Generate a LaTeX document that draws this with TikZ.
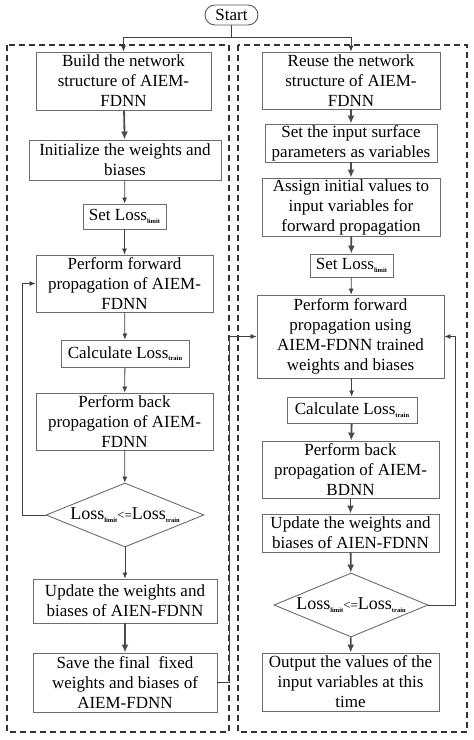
\documentclass[tikz,border=0pt]{standalone}
\usepackage{fontspec}
\setmainfont{Liberation Serif}
\usetikzlibrary{shapes.geometric,arrows.meta}
\newcommand{\lsub}[1]{\raisebox{-2.5pt}{\fontsize{6.5}{7}\selectfont\bfseries #1}}
\newcommand{\lle}{{\fontsize{13}{14}\selectfont<=}}

\begin{document}
\begin{tikzpicture}[x=1pt,y=-1pt,
		every node/.style={font=\fontsize{17}{20}\selectfont, align=center, inner sep=1pt},
		stepbox/.style={draw=gray!85!black, line width=0.9pt, rectangle},
		startbox/.style={draw=gray!70!black, line width=0.9pt, rounded corners=10pt},
		testbox/.style={draw=gray!85!black, line width=0.9pt, diamond, inner sep=0pt, shape aspect=2.45, font=\fontsize{18}{20}\selectfont},
		thin arrow/.style={-{Latex[length=6pt,width=5pt]}, draw=black!75, line width=0.8pt},
		thick arrow/.style={-{Latex[length=8pt,width=7pt]}, draw=black!70, line width=1.8pt},
		frame/.style={draw=black!80, line width=1.5pt, dash pattern=on 6pt off 4pt}]
		\useasboundingbox (0,0) rectangle (474,740);
		\draw[frame] (7,45) rectangle (229,732);
		\draw[frame] (238,45) rectangle (467,732);
		\node[startbox, minimum width=53pt, minimum height=20pt] (start) at (231.5,15) {Start};
		% left column: training
		\node[stepbox, minimum width=175pt, minimum height=58pt] (b1) at (123.5,81) {Build the network\\structure of AIEM-\\FDNN};
		\node[stepbox, minimum width=192pt, minimum height=40pt] (b2) at (125,160) {Initialize the weights and\\biases};
		\node[stepbox, minimum width=83pt, minimum height=25pt] (b3) at (124.5,216.5) {Set Loss\lsub{limit}};
		\node[stepbox, minimum width=177pt, minimum height=57pt] (b4) at (124.5,283.5) {Perform forward\\propagation of AIEM-\\FDNN};
		\node[stepbox, minimum width=128pt, minimum height=27pt] (b5) at (125,353.5) {Calculate Loss\lsub{train}};
		\node[stepbox, minimum width=177pt, minimum height=57pt] (b6) at (124.5,421.5) {Perform back\\propagation of AIEM-\\FDNN};
		\node[testbox, minimum width=158pt, minimum height=64pt] (d1) at (125,515) {Loss\lsub{limit}\lle Loss\lsub{train}};
		\node[stepbox, minimum width=184pt, minimum height=44pt] (b7) at (125,601) {Update the weights and\\biases of AIEN-FDNN};
		\node[stepbox, minimum width=184pt, minimum height=59pt] (b8) at (125,682.5) {Save the final~ fixed\\weights and biases of\\AIEM-FDNN};
		% right column: inversion
		\node[stepbox, minimum width=178pt, minimum height=57pt] (r1) at (351,80.5) {Reuse the network\\structure of AIEM-\\FDNN};
		\node[stepbox, minimum width=172pt, minimum height=38pt] (r2) at (351,143) {Set the input surface\\parameters as variables};
		\node[stepbox, minimum width=178pt, minimum height=58pt] (r3) at (351,207) {Assign initial values to\\input variables for\\forward propagation};
		\node[stepbox, minimum width=83pt, minimum height=23pt] (r4) at (351.5,265.5) {Set Loss\lsub{limit}};
		\node[stepbox, minimum width=187pt, minimum height=83pt] (r5) at (350.5,336.5) {Perform forward\\propagation using\\AIEM-FDNN trained\\weights and biases};
		\node[stepbox, minimum width=130pt, minimum height=26pt] (r6) at (352,410) {Calculate Loss\lsub{train}};
		\node[stepbox, minimum width=177pt, minimum height=57pt] (r7) at (350.5,469.5) {Perform back\\propagation of AIEM-\\BDNN};
		\node[stepbox, minimum width=177pt, minimum height=38pt] (r8) at (350.5,533) {Update the weights and\\biases of AIEN-FDNN};
		\node[testbox, minimum width=154pt, minimum height=64pt] (rd) at (351,605) {Loss\lsub{limit}\lle Loss\lsub{train}};
		\node[stepbox, minimum width=177pt, minimum height=58pt] (r9) at (350.5,682) {Output the values of the\\input variables at this\\time};
		% connectors
		\coordinate (split) at (231.5,37);
		\draw[draw=black!75, line width=0.8pt] (start.south) -- (split);
		\draw[thin arrow] (split) -| (b1.north);
		\draw[thin arrow] (split) -| (r1.north);
		\draw[thick arrow] (b1) -- (b2);
		\draw[thin arrow] (b2) -- (b3);
		\draw[thin arrow] (b3) -- (b4);
		\draw[thin arrow] (b4) -- (b5);
		\draw[thin arrow] (b5) -- (b6);
		\draw[thin arrow] (b6) -- (d1);
		\draw[thin arrow] (d1) -- (b7);
		\draw[thick arrow] (b7) -- (b8);
		\draw[thin arrow] (d1.west) -- ++(-23,0) |- (b4.west);
		\draw[thin arrow] (b8.east) -- ++(12,0) |- (r5.west);
		\draw[thick arrow] (r1) -- (r2);
		\draw[thick arrow] (r2) -- (r3);
		\draw[thick arrow] (r3) -- (r4);
		\draw[thin arrow] (r4) -- (r5);
		\draw[thin arrow] (r5) -- (r6);
		\draw[thick arrow] (r6) -- (r7);
		\draw[thick arrow] (r7) -- (r8);
		\draw[thick arrow] (r8) -- (rd);
		\draw[thick arrow] (rd) -- (r9);
		\draw[thin arrow] (rd.east) -- ++(27,0) |- (r5.east);
	\end{tikzpicture}
\end{document}
